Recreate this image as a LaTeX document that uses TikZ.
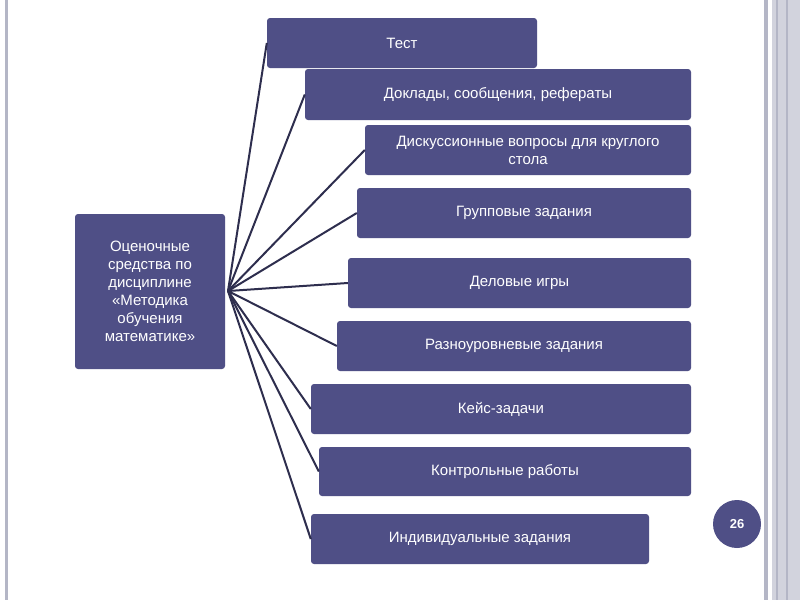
\documentclass[tikz,border=0pt]{standalone}
\usepackage{fontspec}
\setmainfont{Liberation Sans}
\begin{document}
\begin{tikzpicture}[x=1pt,y=-1pt,
  bx/.style={draw=none,fill=boxc,rounded corners=3pt,text=white,font=\fontsize{15}{18}\selectfont,align=center,inner sep=2pt},
  ln/.style={draw=lnc,line width=2pt}]
\definecolor{boxc}{HTML}{4F4F86}
\definecolor{lnc}{HTML}{2E2E4E}
\definecolor{brd}{HTML}{B4B6C6}
\useasboundingbox (0,0) rectangle (800,600);
\fill[white] (0,0) rectangle (800,600);
\fill[brd] (5,0) rectangle (8,600);
\fill[brd] (764,0) rectangle (768,600);
\fill[brd!60] (772,0) rectangle (800,600);
\fill[brd] (776,0) rectangle (778,600);
\fill[brd] (786,0) rectangle (788,600);
\newcommand{\bx}[6]{\node[bx,minimum width=#4-#2,minimum height=#5-#3] (#1) at ({(#2+#4)/2},{(#3+#5)/2}) {#6};}
\bx{c}{75}{214}{225}{369}{Оценочные\\средства по\\дисциплине\\«Методика\\обучения\\математике»}
\bx{b1}{267}{18}{537}{68}{Тест}
\bx{b2}{305}{69}{691}{120}{Доклады, сообщения, рефераты}
\bx{b3}{365}{125}{691}{175}{Дискуссионные вопросы для круглого\\стола}
\bx{b4}{357}{188}{691}{238}{Групповые задания}
\bx{b5}{348}{258}{691}{308}{Деловые игры}
\bx{b6}{337}{321}{691}{371}{Разноуровневые задания}
\bx{b7}{311}{384}{691}{434}{Кейс-задачи}
\bx{b8}{319}{447}{691}{496}{Контрольные работы}
\bx{b9}{311}{514}{649}{564}{Индивидуальные задания}
\coordinate (h) at (228,291);
\foreach \b in {b1,b2,b3,b4,b5,b6,b7,b8,b9} \draw[ln] (h) -- (\b.west);
\node[circle,fill=boxc,minimum size=48pt,text=white,font=\bfseries\fontsize{13}{15}\selectfont,inner sep=0pt] (n) at (737,524) {26};
\end{tikzpicture}
\end{document}
